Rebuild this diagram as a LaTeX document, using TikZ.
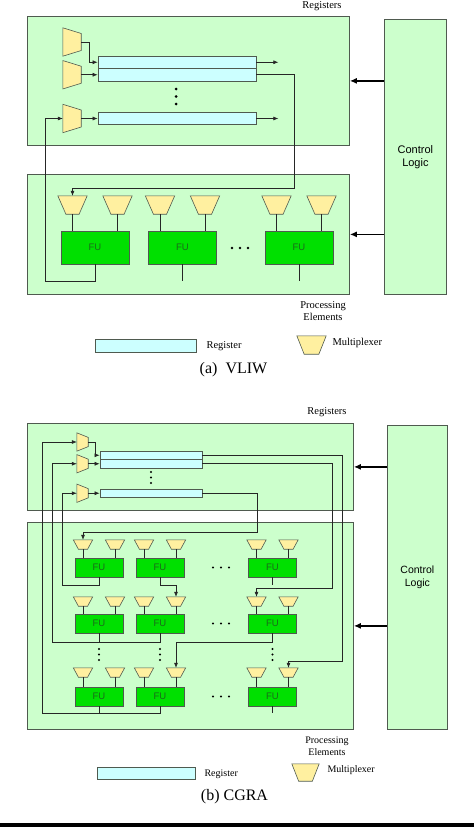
\documentclass[tikz,border=0pt]{standalone}
\usepackage{fontspec}
\setmainfont{Liberation Serif}
\newfontfamily\armfont{Liberation Sans}
\usetikzlibrary{calc, arrows.meta}

\definecolor{boxgreen}{HTML}{CCFFCC}
\definecolor{edgegray}{HTML}{4F5A4F}
\definecolor{regcyan}{HTML}{CCFFFF}
\definecolor{muxyellow}{HTML}{FFF0A0}
\definecolor{fugreen}{HTML}{00E000}
\definecolor{futext}{HTML}{1A6B1A}

% multiplexer: invisible box for the anchors, trapezoid drawn on it
% #1 name, #2 x, #3 y, #4 size style, #5 inset of the narrow side
\newcommand{\mxdown}[5]{%
    \node[#4] (#1) at (#2,#3) {};
    \filldraw[muxfill] (#1.north west) -- (#1.north east)
        -- ($(#1.south east)!#5!(#1.south west)$) -- ($(#1.south west)!#5!(#1.south east)$) -- cycle;}
\newcommand{\mxright}[5]{%
    \node[#4] (#1) at (#2,#3) {};
    \filldraw[muxfill] (#1.north west) -- ($(#1.north east)!#5!(#1.south east)$)
        -- ($(#1.south east)!#5!(#1.north east)$) -- (#1.south west) -- cycle;}

\begin{document}
\begin{tikzpicture}[x=1pt, y=-1pt, >={Latex[length=5pt,width=4pt]},
    panel/.style={draw=edgegray, fill=boxgreen, line width=0.8pt, inner sep=0pt, anchor=north west},
    regbar/.style={draw=edgegray, fill=regcyan, line width=0.7pt, inner sep=0pt},
    fubox/.style={draw=edgegray, fill=fugreen, line width=0.7pt, inner sep=0pt, text=futext,
        font=\armfont\fontsize{9.5}{10}\selectfont},
    muxfill/.style={draw=edgegray, fill=muxyellow, line width=0.6pt},
    bigmux/.style={inner sep=0pt, minimum width=29pt, minimum height=18pt},
    smallmux/.style={inner sep=0pt, minimum width=19pt, minimum height=9pt},
    bigside/.style={inner sep=0pt, minimum width=18pt, minimum height=28pt},
    smallside/.style={inner sep=0pt, minimum width=11pt, minimum height=18pt},
    wire/.style={draw=black!85, line width=0.6pt},
    ctrl/.style={line width=1.6pt, -{Latex[length=7pt,width=6pt]}},
    lbl/.style={font=\fontsize{10.5}{12}\selectfont, align=center},
    ctltext/.style={font=\armfont\fontsize{11}{13}\selectfont, align=center},
    captext/.style={font=\fontsize{16}{18}\selectfont}]
    \useasboundingbox (0,0) rectangle (474,827);

    % ---------------- (a) VLIW ----------------
    % boxes
    \node[panel, minimum width=322pt, minimum height=129pt] (regsA) at (27,16) {};
    \node[panel, minimum width=62pt, minimum height=275pt, ctltext] (ctlA) at (384,19) {Control\\Logic};
    \node[panel, minimum width=322pt, minimum height=120pt] (peA) at (27,174) {};
    \node[lbl] (regsAlbl) at (322,6) {Registers};
    \node[lbl, font=\fontsize{10.5}{12.5}\selectfont] (peAlbl) at (323,311) {Processing\\Elements};

    % register file
    \node[regbar, minimum width=158pt, minimum height=12.5pt] (regA1) at (177,62.25) {};
    \node[regbar, minimum width=158pt, minimum height=12.5pt] (regA2) at (177,74.75) {};
    \node[regbar, minimum width=158pt, minimum height=12.5pt] (regA3) at (177,118.5) {};
    \mxright{rmA1}{72}{42}{bigside}{0.2}
    \mxright{rmA2}{72}{74.75}{bigside}{0.2}
    \mxright{rmA3}{72}{118.5}{bigside}{0.2}
    \foreach \y in {89,96.5,104} \fill (176,\y) circle (1.5pt);

    \draw[wire,->] (rmA1.east) -- ++(8,0) |- (regA1.west);
    \draw[wire,->] (rmA2.east) -- (regA2.west);
    \draw[wire,->] (rmA3.east) -- (regA3.west);
    \draw[wire,->] (regA1.east) -- ++(22,0);
    \draw[wire,->] (regA3.east) -- ++(22,0);

    % functional units
    \foreach \n/\x in {1/95, 2/182.5, 3/299} {
        \node[fubox, minimum width=68pt, minimum height=33pt] (fuA\n) at (\x,247.5) {FU};
        \mxdown{pmAl\n}{\x-22.5}{205}{bigmux}{0.276}
        \mxdown{pmAr\n}{\x+22.5}{205}{bigmux}{0.276}
        \draw[wire] (pmAl\n.south) -- (pmAl\n.south |- fuA\n.north);
        \draw[wire] (pmAr\n.south) -- (pmAr\n.south |- fuA\n.north);
    }
    \foreach \x in {232,240,248} \fill (\x,248) circle (1.4pt);

    \coordinate (turnA) at (294,188);
    \draw[wire,->] (regA2.east) -| (turnA) -| (pmAl1.north);
    \draw[wire,->] (fuA1.south) |- (45,281) |- (rmA3.west);
    \draw[wire] (fuA2.south) -- ++(0,17);
    \draw[wire] (fuA3.south) -- ++(0,17);

    % control
    \draw[ctrl] (ctlA.west |- regsA.east) -- (regsA.east);
    \draw[ctrl] (ctlA.west |- peA.east) -- (peA.east);

    % legend
    \node[regbar, minimum width=101pt, minimum height=13pt] (keyregA) at (145.5,345.5) {};
    \node[lbl, anchor=west] (keyregAtxt) at (203,346) {Register};
    \mxdown{keymuxA}{311.5}{345}{bigmux}{0.25}
    \node[lbl, anchor=west] (keymuxAtxt) at (329,343) {Multiplexer};
    \node[captext] (capA) at (233.5,370) {(a)\ \ VLIW};

    % ---------------- (b) CGRA ----------------
    % boxes
    \node[panel, minimum width=326pt, minimum height=87pt] (regsB) at (27,423) {};
    \node[panel, minimum width=60pt, minimum height=304pt, ctltext, font=\armfont\fontsize{10.5}{12.5}\selectfont] (ctlB) at (387,425) {Control\\Logic};
    \node[panel, minimum width=326pt, minimum height=207pt] (peB) at (27,522) {};
    \node[lbl] (regsBlbl) at (327,412) {Registers};
    \node[lbl, font=\fontsize{10}{12}\selectfont] (peBlbl) at (327,746) {Processing\\Elements};

    % register file
    \node[regbar, minimum width=102pt, minimum height=8.5pt] (regB1) at (151,455.25) {};
    \node[regbar, minimum width=102pt, minimum height=8.5pt] (regB2) at (151,463.75) {};
    \node[regbar, minimum width=102pt, minimum height=8.5pt] (regB3) at (151,493.25) {};
    \mxright{rmB1}{82.5}{442}{smallside}{0.25}
    \mxright{rmB2}{82.5}{463.75}{smallside}{0.25}
    \mxright{rmB3}{82.5}{493.25}{smallside}{0.25}
    \foreach \y in {472,477.5,483} \fill (151,\y) circle (1.1pt);

    \draw[wire,->] (rmB1.east) -- ++(7,0) |- (regB1.west);
    \draw[wire,->] (rmB2.east) -- (regB2.west);
    \draw[wire,->] (rmB3.east) -- (regB3.west);

    % functional units, three rows
    \foreach \r/\ym/\yf in {1/544.5/567.5, 2/601.5/623.5, 3/672.5/696.5} {
        \foreach \n/\x in {1/99, 2/160, 3/272.5} {
            \node[fubox, minimum width=48pt, minimum height=19pt] (fuB\r\n) at (\x,\yf) {FU};
            \mxdown{pmBl\r\n}{\x-16}{\ym}{smallmux}{0.263}
            \mxdown{pmBr\r\n}{\x+16}{\ym}{smallmux}{0.263}
            \draw[wire] (pmBl\r\n.south) -- (pmBl\r\n.south |- fuB\r\n.north);
            \draw[wire] (pmBr\r\n.south) -- (pmBr\r\n.south |- fuB\r\n.north);
        }
        \foreach \x in {213,221,229} \fill (\x,\yf) circle (1.2pt);
    }
    \foreach \x in {99,160,272.5}
        \foreach \y in {649,654.5,660} \fill (\x,\y) circle (1.1pt);

    % registers to units
    \draw[wire,->] (regB1.east) -| (342,661) -| (pmBr33.north);
    \draw[wire,->] (regB2.east) -| (332,588) -| (pmBl23.north);
    \draw[wire,->] (regB3.east) -| (257,532) -| (pmBl11.north);

    % units to units and back to registers
    \draw[wire,->] (fuB11.south) |- (62,585) |- (rmB3.west);
    \draw[wire,->] (fuB12.south) -- ++(0,8) -| (pmBr22.north);
    \draw[wire] (fuB13.south) -- ++(0,8);
    \draw[wire] (fuB21.south) -- ++(0,9);
    \draw[wire,->] (fuB22.south) |- (52,642) |- (rmB2.west);
    \draw[wire,->] (fuB23.south) -- ++(0,9) -| (pmBr32.north);
    \draw[wire] (fuB31.south) -- ++(0,7);
    \draw[wire,->] (fuB32.south) |- (42,713) |- (rmB1.west);
    \draw[wire] (fuB33.south) -- ++(0,7);

    % control
    \draw[ctrl] (ctlB.west |- regsB.east) -- (regsB.east);
    \draw[ctrl] (ctlB.west |- peB.east) -- (peB.east);

    % legend
    \node[regbar, minimum width=98pt, minimum height=12pt] (keyregB) at (146,773) {};
    \node[lbl, font=\fontsize{10}{12}\selectfont, anchor=west] (keyregBtxt) at (201,774) {Register};
    \mxdown{keymuxB}{305.5}{772.5}{bigmux, minimum width=27pt, minimum height=17pt}{0.25}
    \node[lbl, font=\fontsize{10}{12}\selectfont, anchor=west] (keymuxBtxt) at (324,770) {Multiplexer};
    \node[captext] (capB) at (234.5,797) {(b) CGRA};

    \fill (0,823) rectangle (474,827);
\end{tikzpicture}
\end{document}
